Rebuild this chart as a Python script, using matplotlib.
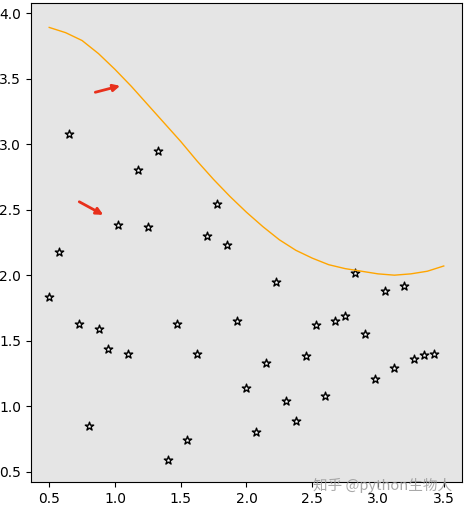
import matplotlib.pyplot as plt
import numpy as np

plt.rcParams['font.family'] = ['DejaVu Sans', 'Noto Sans CJK SC']

# scattered star points
xs = np.arange(40) * 0.075 + 0.5
ys = [1.83, 2.18, 3.08, 1.63, 0.85, 1.59, 1.44, 2.38, 1.40, 2.80,
      2.37, 2.95, 0.59, 1.63, 0.74, 1.40, 2.30, 2.54, 2.23, 1.65,
      1.14, 0.80, 1.33, 1.95, 1.04, 0.89, 1.38, 1.62, 1.08, 1.65,
      1.69, 2.02, 1.55, 1.21, 1.88, 1.29, 1.92, 1.36, 1.39, 1.40]

# orange curve
cx = [0.5, 0.625, 0.75, 0.875, 1.0, 1.125, 1.25, 1.375, 1.5, 1.625, 1.75, 1.875,
      2.0, 2.125, 2.25, 2.375, 2.5, 2.625, 2.75, 2.875, 3.0, 3.125, 3.25, 3.375, 3.5]
cy = [3.89, 3.85, 3.79, 3.69, 3.57, 3.44, 3.30, 3.16, 3.02, 2.87, 2.73, 2.60,
      2.48, 2.37, 2.27, 2.19, 2.13, 2.08, 2.05, 2.03, 2.01, 2.00, 2.01, 2.03, 2.07]

fig = plt.figure(figsize=(4.74, 5.05), dpi=100)
ax = fig.add_axes([0.065, 0.045, 0.91, 0.95])
ax.set_facecolor('#e5e5e5')
ax.plot(cx, cy, color='orange', lw=1)
ax.scatter(xs, ys, marker='*', facecolors='white', edgecolors='black', s=40, linewidths=1)
ax.annotate('', xy=(1.06, 3.45), xytext=(0.83, 3.39),
            arrowprops=dict(arrowstyle='-|>', color='#e8301c', lw=2))
ax.annotate('', xy=(0.93, 2.45), xytext=(0.71, 2.57),
            arrowprops=dict(arrowstyle='-|>', color='#e8301c', lw=2))
ax.set_xlim(0.36, 3.64)
ax.set_ylim(0.42, 4.08)
ax.set_xticks([0.5, 1.0, 1.5, 2.0, 2.5, 3.0, 3.5])
fig.text(0.66, 0.03, '知乎 @python生物人', color='#999999', fontsize=10.5,
         family=['Noto Sans CJK SC', 'DejaVu Sans'], alpha=0.85)
fig.savefig('out.png')
